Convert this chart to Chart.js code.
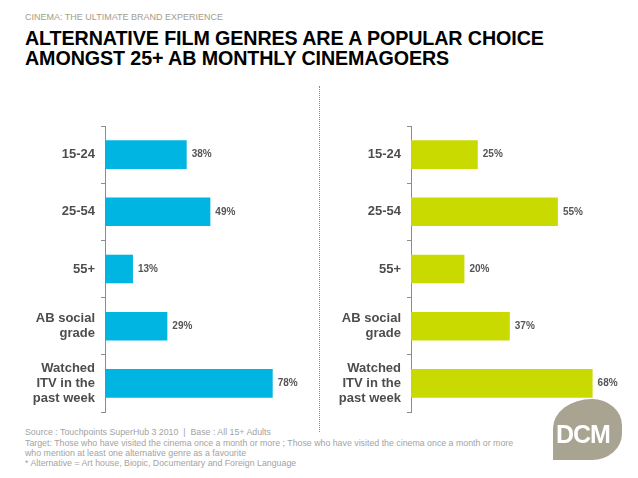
<!DOCTYPE html>
<html>
<head>
<meta charset="utf-8">
<script src="https://cdn.jsdelivr.net/npm/chart.js@4/dist/chart.umd.min.js"></script>
<style>
  html, body { margin: 0; padding: 0; background: #fff; }
  body { width: 638px; height: 478px; position: relative; overflow: hidden;
         font-family: "Liberation Sans", Arial, sans-serif; }
  .kicker { position: absolute; left: 25px; top: 12px; font-size: 9px; color: #a39d8c; }
  .headline { position: absolute; left: 25px; top: 28px; font-size: 19.7px; font-weight: bold;
              line-height: 20px; color: #000; letter-spacing: -0.1px; }
  .divider { position: absolute; left: 319px; top: 86px; height: 346px; width: 0;
             border-left: 1px dotted #8a8a8a; }
  .foot { position: absolute; left: 25px; font-size: 8.8px; color: #a3a3a3; line-height: 9.5px; }
  .logo { position: absolute; left: 553px; top: 399px; width: 69px; height: 61px;
          background: #a8a491; border-radius: 65% 50% 50% 0 / 55% 50% 50% 0; }
  .logo span { position: absolute; left: 3px; top: 21px; font-size: 25px; font-weight: bold;
               color: #fff; letter-spacing: -1px; }
  canvas { position: absolute; }
</style>
</head>
<body>
<div class="kicker">CINEMA: THE ULTIMATE BRAND EXPERIENCE</div>
<div class="headline">ALTERNATIVE FILM GENRES ARE A POPULAR CHOICE<br>AMONGST 25+ AB MONTHLY CINEMAGOERS</div>
<div class="divider"></div>

<div id="left-wrap" style="position:absolute;left:0;top:120px;width:320px;height:300px;"><canvas id="left"></canvas></div>
<div id="right-wrap" style="position:absolute;left:320px;top:120px;width:318px;height:300px;"><canvas id="right"></canvas></div>

<div class="foot" style="top:428px;">Source : Touchpoints SuperHub 3 2010&nbsp; |&nbsp; Base : All 15+ Adults</div>
<div class="foot" style="top:439px;">Target: Those who have visited the cinema once a month or more ; Those who have visited the cinema once a month or more<br>who mention at least one alternative genre as a favourite</div>
<div class="foot" style="top:459px;">* Alternative = Art house, Biopic, Documentary and Foreign Language</div>
<div class="logo"><span>DCM</span></div>

<script>
  const categories = ["15-24", "25-54", "55+", ["AB social", "grade"], ["Watched", "ITV in the", "past week"]];
  const monthlyCinemagoers = [38, 49, 13, 29, 78];
  const alternativeFans = [25, 55, 20, 37, 68];

  // Percent label just past the end of each bar.
  const valueLabels = {
    id: "valueLabels",
    afterDatasetsDraw(chart) {
      const ctx = chart.ctx;
      ctx.save();
      ctx.font = "bold 10px 'Liberation Sans', Arial, sans-serif";
      ctx.fillStyle = "#555";
      ctx.textBaseline = "middle";
      chart.getDatasetMeta(0).data.forEach((bar, i) => {
        ctx.fillText(chart.data.datasets[0].data[i] + "%", bar.x + 5, bar.y);
      });
      ctx.restore();
    },
  };

  function makeChart(id, values, color, axisWidth, xMax) {
    return new Chart(document.getElementById(id), {
      type: "bar",
      data: {
        labels: categories,
        datasets: [{ data: values, backgroundColor: color, categoryPercentage: 1, barPercentage: 0.5 }],
      },
      options: {
        indexAxis: "y",
        responsive: true,
        maintainAspectRatio: false,
        animation: false,
        layout: { padding: { top: 6, bottom: 8, right: 0, left: 0 } },
        plugins: { legend: { display: false }, tooltip: { enabled: false } },
        scales: {
          x: { display: false, min: 0, max: xMax },
          y: {
            // fixed axis width, and no extra room reserved for the multi-line end labels
            afterFit: (s) => { s.width = axisWidth; s.paddingTop = 0; s.paddingBottom = 0; },
            border: { color: "#8c8c8c", width: 1 },
            grid: { drawOnChartArea: false, tickLength: 4, color: "#8c8c8c" },
            ticks: {
              padding: 6,
              color: "#4d4d4d",
              font: { family: "'Liberation Sans', Arial, sans-serif", size: 13, weight: "bold", lineHeight: 1.18 },
            },
          },
        },
      },
      plugins: [valueLabels],
    });
  }

  makeChart("left", monthlyCinemagoers, "#00b5e2", 105, 100);
  makeChart("right", alternativeFans, "#c9da00", 91, 85);
</script>
</body>
</html>
